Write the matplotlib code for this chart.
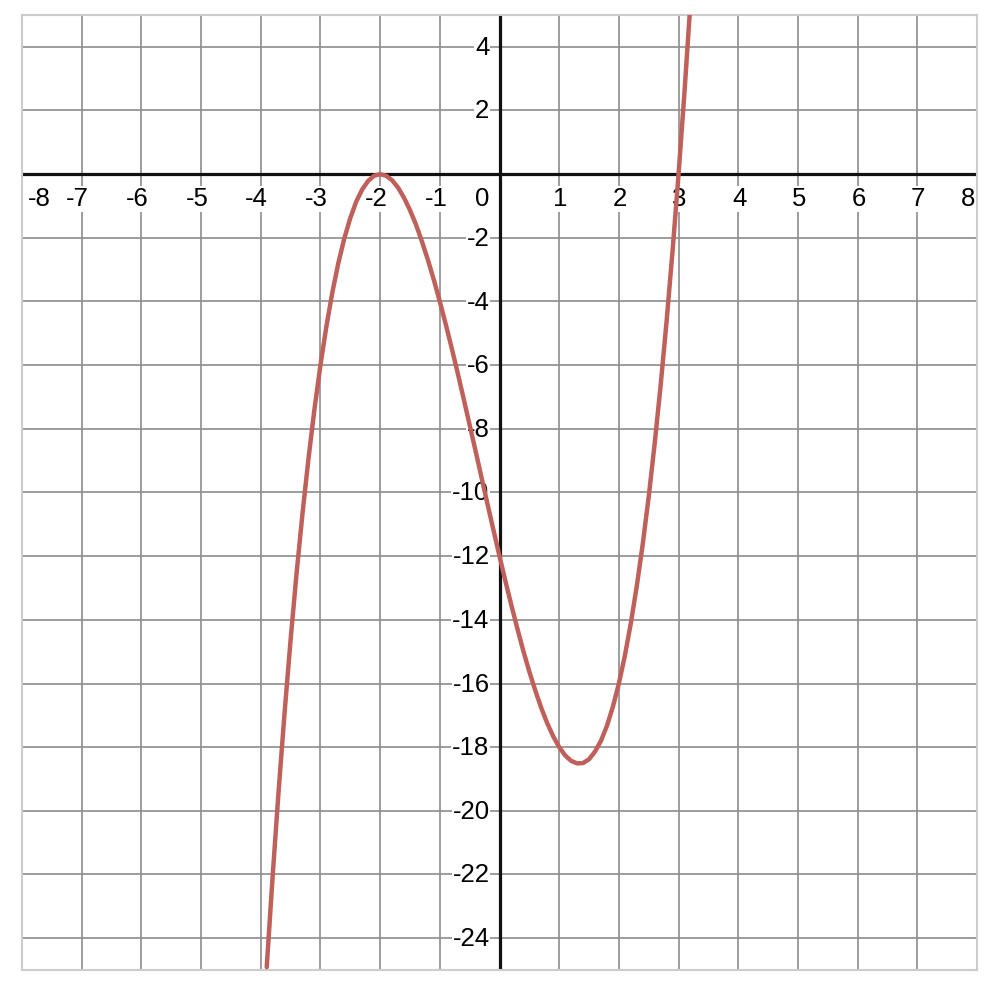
import numpy as np
import matplotlib
matplotlib.use("Agg")
import matplotlib.pyplot as plt
from matplotlib.transforms import offset_copy

plt.rcParams['font.family'] = ['Liberation Sans', 'DejaVu Sans']

# points
x_vals = [-3.9, -3.8, -3.7, -3.6, -3.5, -3.4, -3.3, -3.2, -3.1, -3.0,
          -2.9, -2.8, -2.7, -2.6, -2.5, -2.4, -2.3, -2.2, -2.1, -2.0,
          -1.9, -1.8, -1.7, -1.6, -1.5, -1.4, -1.3, -1.2, -1.1, -1.0,
          -0.9, -0.8, -0.7, -0.6, -0.5, -0.4, -0.3, -0.2, -0.1, 0.0,
          0.1, 0.2, 0.3, 0.4, 0.5, 0.6, 0.7, 0.8, 0.9, 1.0,
          1.1, 1.2, 1.3, 1.4, 1.5, 1.6, 1.7, 1.8, 1.9, 2.0,
          2.1, 2.2, 2.3, 2.4, 2.5, 2.6, 2.7, 2.8, 2.9, 3.0,
          3.1, 3.2]
y_vals = [-24.91, -22.03, -19.36, -16.90, -14.63, -12.54, -10.65, -8.93, -7.38, -6.00,
          -4.78, -3.71, -2.79, -2.02, -1.38, -0.86, -0.48, -0.21, -0.05, 0.00,
          -0.05, -0.19, -0.42, -0.74, -1.13, -1.58, -2.11, -2.69, -3.32, -4.00,
          -4.72, -5.47, -6.25, -7.06, -7.88, -8.70, -9.54, -10.37, -11.19, -12.00,
          -12.79, -13.55, -14.28, -14.98, -15.63, -16.22, -16.77, -17.25, -17.66, -18.00,
          -18.26, -18.43, -18.51, -18.50, -18.38, -18.14, -17.80, -17.33, -16.73, -16.00,
          -15.13, -14.11, -12.94, -11.62, -10.13, -8.46, -6.63, -4.61, -2.40, 0.00,
          2.60, 5.41]

x_ticks = [-8, -7, -6, -5, -4, -3, -2, -1, 0, 1, 2, 3, 4, 5, 6, 7, 8]
y_ticks = [4, 2, -2, -4, -6, -8, -10, -12, -14, -16, -18, -20, -22, -24]

XMIN, XMAX = -8, 8
YMIN, YMAX = -25, 5

fig = plt.figure(figsize=(9.92, 9.90), dpi=100, facecolor='white')
ax = fig.add_axes([22/992, 20/990, 955/992, 955/990])
ax.set_xlim(XMIN, XMAX)
ax.set_ylim(YMIN, YMAX)
ax.set_xticks([])
ax.set_yticks([])
for sp in ax.spines.values():
    sp.set_color('#cccccc')
    sp.set_linewidth(1.5)

grid_col = '#8c8c8c'
for gx in range(XMIN + 1, XMAX):
    ax.axvline(gx, color=grid_col, lw=1.2, zorder=1)
for gy in range(YMIN + 1, YMAX, 2):
    ax.axhline(gy, color=grid_col, lw=1.2, zorder=1)

ax.axhline(0, color='#111111', lw=2.3, zorder=2)
ax.axvline(0, color='#111111', lw=2.3, zorder=2)

box = dict(facecolor='white', edgecolor='none', pad=0.5)
fs = 18.5

# x tick labels below the axis
for t in x_ticks:
    if t == XMIN:
        tr, ha = offset_copy(ax.transData, fig, x=6, y=-25, units='dots'), 'left'
    elif t == XMAX:
        tr, ha = offset_copy(ax.transData, fig, x=-2, y=-25, units='dots'), 'right'
    elif t == 0:
        tr, ha = offset_copy(ax.transData, fig, x=-10, y=-25, units='dots'), 'right'
    elif t < 0:
        tr, ha = offset_copy(ax.transData, fig, x=-4, y=-25, units='dots'), 'center'
    else:
        tr, ha = offset_copy(ax.transData, fig, x=1, y=-25, units='dots'), 'center'
    ax.text(t, 0, str(t), transform=tr, ha=ha, va='center', fontsize=fs,
            bbox=box, zorder=3)

# y tick labels left of the axis
tr_y = offset_copy(ax.transData, fig, x=-10, y=-1, units='dots')
for t in y_ticks:
    ax.text(0, t, str(t), transform=tr_y, ha='right', va='center', fontsize=fs,
            bbox=box, zorder=3)

ax.plot(x_vals, y_vals, color='#c0605a', lw=3.2, zorder=4,
        solid_capstyle='round', solid_joinstyle='round')

fig.savefig('out.png', dpi=100, facecolor='white')
